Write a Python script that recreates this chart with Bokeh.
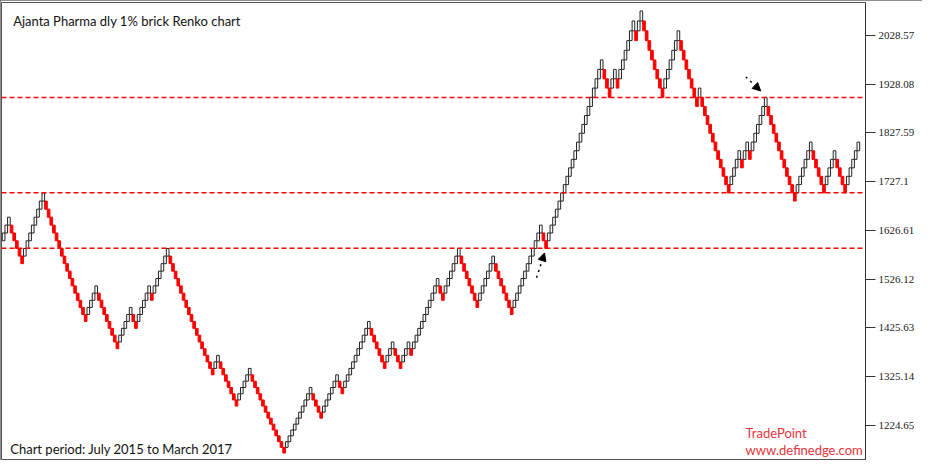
from bokeh.plotting import figure
from bokeh.models import Range1d, FixedTicker, Span, Label, Arrow, NormalHead, ColumnDataSource
from bokeh.embed import file_html
from bokeh.resources import INLINE

# ---------------- data ----------------
title_text = "Ajanta Pharma dly 1% brick Renko chart"
period_text = "Chart period: July 2015 to March 2017"
brand_line1 = "TradePoint"
brand_line2 = "www.definedge.com"

start_price = 1605.1      # bottom of the first brick
brick_pct = 1.0           # 1% bricks
# consecutive Renko runs, alternating up / down, starting with an up run
run_lengths = [3, 5, 8, 16, 4, 8, 5, 2, 5, 1, 6, 17, 2, 7, 5, 13, 10, 4, 6, 2,
               10, 6, 3, 3, 3, 1, 10, 2, 6, 7, 6, 7, 11, 2, 21, 3, 2, 1, 6, 1,
               2, 8, 6, 7, 1, 11, 4, 1, 2, 1, 6, 11, 6, 5, 4, 4, 5]

y_ticks = [1224.65, 1325.14, 1425.63, 1526.12, 1626.61, 1727.1, 1827.59, 1928.08, 2028.57]
y_tick_labels = ["1224.65", "1325.14", "1425.63", "1526.12", "1626.61",
                 "1727.1", "1827.59", "1928.08", "2028.57"]

sr_levels = [1900.6, 1704.0, 1589.5]

# annotation arrows: (brick index, price) tail -> head
arrow_tail_x = [281.0, 201.9]
arrow_tail_y = [1943.0, 1529.0]
arrow_head_x = [286.6, 204.9]
arrow_head_y = [1914.0, 1580.0]

# ---------------- build bricks ----------------
f = 1 + brick_pct / 100.0
left, right, bottom, top, up_flag = [], [], [], [], []
col = 0
last_top = 0
last_bot = 0
for i, n in enumerate(run_lengths):
    if i % 2 == 0:  # up run
        b = 0 if i == 0 else last_bot + 1
        for k in range(n):
            left.append(col); right.append(col + 1)
            bottom.append(start_price * f ** (b + k)); top.append(start_price * f ** (b + k + 1))
            up_flag.append(True)
            col += 1
        last_top = b + n
    else:  # down run
        t = last_top - 1
        for k in range(n):
            left.append(col); right.append(col + 1)
            bottom.append(start_price * f ** (t - k - 1)); top.append(start_price * f ** (t - k))
            up_flag.append(False)
            col += 1
        last_bot = t - n


def pick(seq, want):
    return [v for v, u in zip(seq, up_flag) if u == want]


up_src = ColumnDataSource(dict(left=pick(left, True), right=pick(right, True),
                               bottom=pick(bottom, True), top=pick(top, True)))
dn_src = ColumnDataSource(dict(left=pick(left, False), right=pick(right, False),
                               bottom=pick(bottom, False), top=pick(top, False)))

n_cols = col

# ---------------- figure ----------------
p = figure(width=922, height=460, output_backend="svg", toolbar_location=None,
           x_axis_location=None, y_axis_location="right",
           x_range=Range1d(-0.3, n_cols + 2.2), y_range=Range1d(1154.0, 2096.5),
           min_border_left=1, min_border_top=2, min_border_bottom=1, min_border_right=57)
p.styles = {"outline": "2px solid #6a6a6a", "outline-offset": "-2px"}
p.grid.visible = False
p.background_fill_color = "white"
p.border_fill_color = "white"
p.outline_line_color = "#555555"
p.outline_line_width = 1

ax = p.yaxis[0]
ax.ticker = FixedTicker(ticks=y_ticks)
ax.major_label_overrides = {t: s for t, s in zip(y_ticks, y_tick_labels)}
ax.minor_tick_line_color = None
ax.major_tick_out = 10
ax.major_tick_in = 0
ax.major_tick_line_color = "#333333"
ax.axis_line_color = "#333333"
ax.major_label_standoff = 3
ax.major_label_text_font = "Liberation Sans Narrow"
ax.major_label_text_font_size = "11px"
ax.major_label_text_color = "#222222"

for lv in sr_levels:
    p.add_layout(Span(location=lv, dimension="width", line_color="#ff0000",
                      line_dash="5 3", line_width=1.5))

p.quad(left="left", right="right", bottom="bottom", top="top", source=dn_src,
       fill_color="#ff0000", line_color="#ff0000", line_width=1)
p.quad(left="left", right="right", bottom="bottom", top="top", source=up_src,
       fill_color="white", line_color="#222222", line_width=1)

for xs, ys, xe, ye in zip(arrow_tail_x, arrow_tail_y, arrow_head_x, arrow_head_y):
    p.add_layout(Arrow(x_start=xs, y_start=ys, x_end=xe, y_end=ye,
                       line_color="black", line_width=1.5, line_dash="dotted",
                       end=NormalHead(size=8, fill_color="black", line_color="black")))

font = "Lato"
p.add_layout(Label(x=4.1, y=2058.0, text=title_text, text_font=font, text_font_size="13px",
                   text_color="#111111", text_baseline="middle"))
p.add_layout(Label(x=3.0, y=1176.0, text=period_text, text_font=font, text_font_size="13px",
                   text_color="#111111", text_baseline="middle"))
p.add_layout(Label(x=280.9, y=1208.5, text=brand_line1, text_font=font, text_font_size="13px",
                   text_color="#e8333b", text_baseline="middle"))
p.add_layout(Label(x=280.9, y=1174.5, text=brand_line2, text_font=font, text_font_size="13px",
                   text_color="#e8333b", text_baseline="middle"))

open("out.html", "w").write(file_html(p, INLINE))
